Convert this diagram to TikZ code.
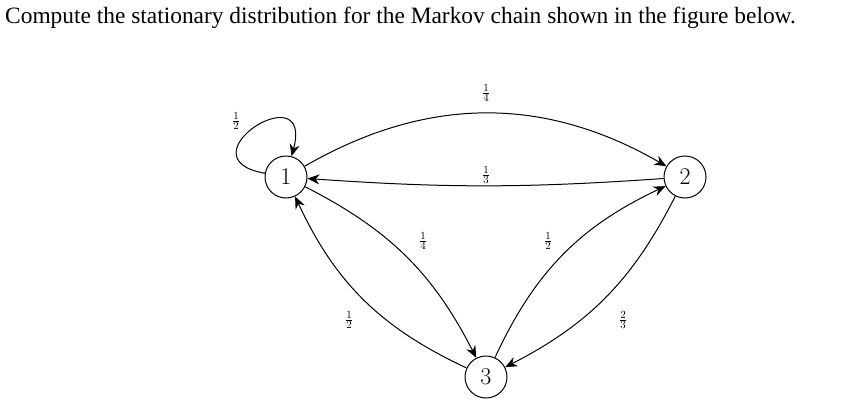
\documentclass[tikz,border=0pt]{standalone}
\usepackage{fontspec}
\usetikzlibrary{arrows.meta}
\newfontfamily\titlefont{Liberation Serif}
\begin{document}
\begin{tikzpicture}[x=1pt,y=-1pt,
  state/.style={draw,circle,minimum size=42pt,inner sep=0pt,font=\fontsize{24}{28}\selectfont,line width=1pt},
  edge/.style={-{Stealth[length=12pt,width=10pt]},line width=1pt},
  lab/.style={font=\fontsize{15}{18}\selectfont}]
\useasboundingbox (0,0) rectangle (846,415);
\node[anchor=west,font=\titlefont\fontsize{23.4}{26}\selectfont,inner sep=0pt] (title) at (5,18) {Compute the stationary distribution for the Markov chain shown in the figure below.};
\node[state] (n1) at (286,177) {1};
\node[state] (n2) at (685,177) {2};
\node[state] (n3) at (486,377) {3};
\draw[edge] (n1) to[out=170,in=75,looseness=7] (n1);
\draw[edge] (n1) to[bend left=30] (n2);
\draw[edge] (n2) to[bend left=4] (n1);
\draw[edge] (n1) to[bend left=18] (n3);
\draw[edge] (n3) to[bend left=20] (n1);
\draw[edge] (n3) to[bend left=20] (n2);
\draw[edge] (n2) to[bend left=18] (n3);
\node[lab] (l11) at (236,121) {$\frac{1}{2}$};
\node[lab] (l12) at (486,93) {$\frac{1}{4}$};
\node[lab] (l21) at (486,175) {$\frac{1}{3}$};
\node[lab] (l13) at (423,241) {$\frac{1}{4}$};
\node[lab] (l32) at (548,241) {$\frac{1}{2}$};
\node[lab] (l31) at (349,320) {$\frac{1}{2}$};
\node[lab] (l23) at (623,320) {$\frac{2}{3}$};
\end{tikzpicture}
\end{document}
